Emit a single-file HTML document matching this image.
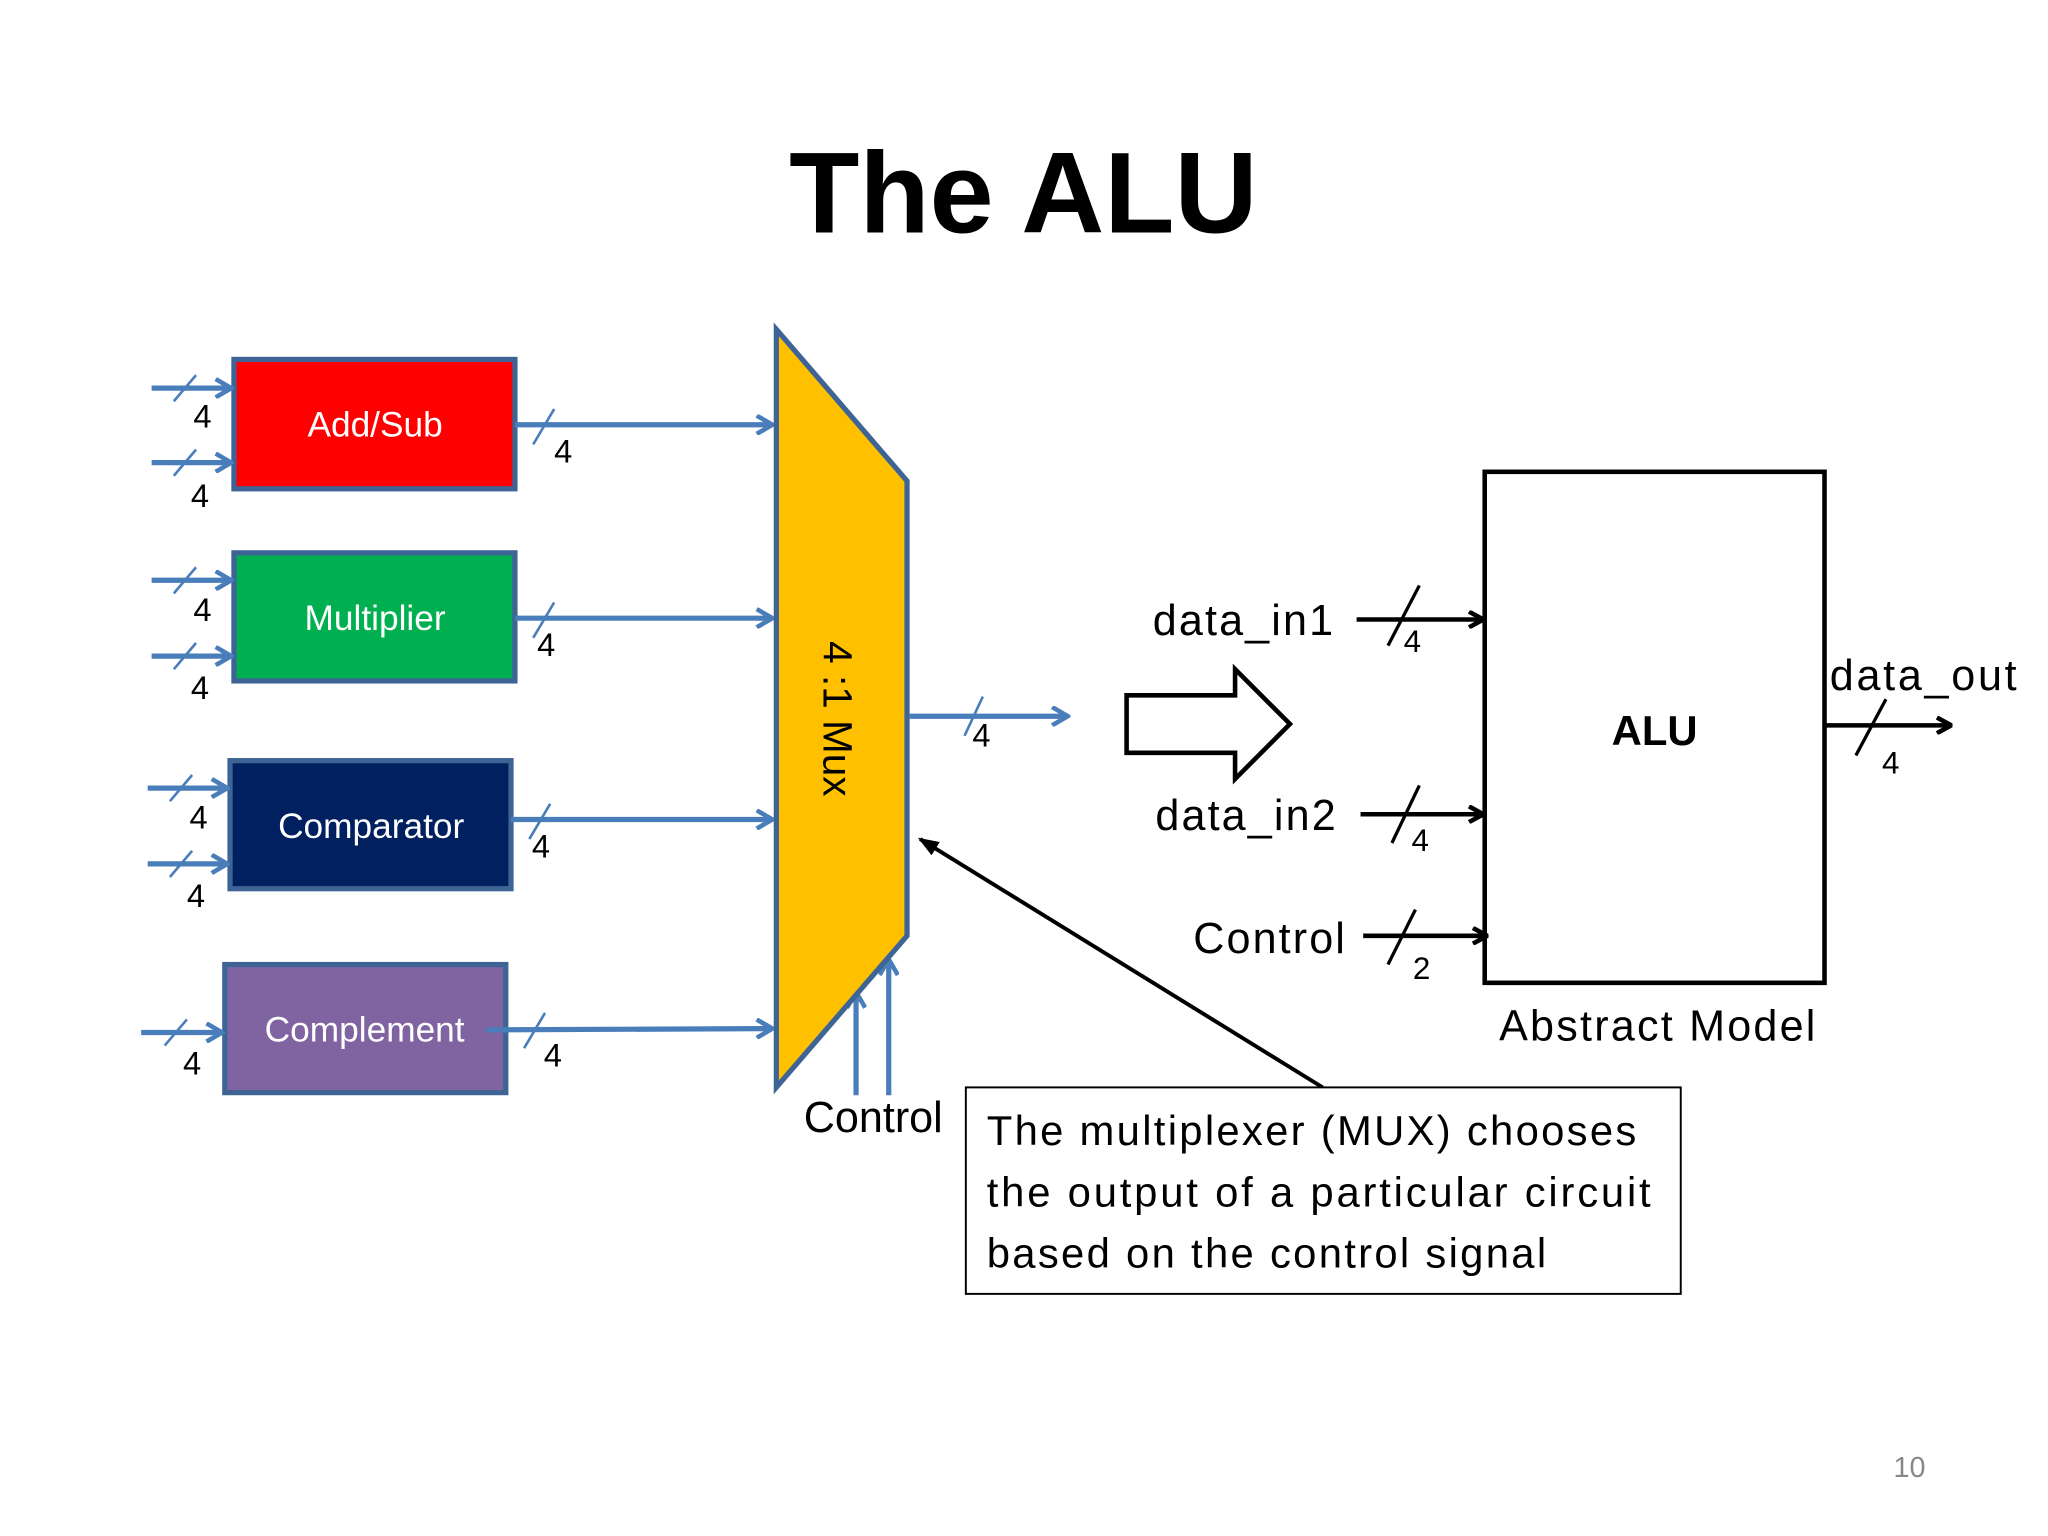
<!DOCTYPE html>
<html><head><meta charset="utf-8"><style>
html,body{margin:0;padding:0;background:#fff;}
svg{display:block;}
text{font-family:"Liberation Sans",sans-serif;}
</style></head><body>
<svg width="2048" height="1536" viewBox="0 0 1567 1175.25" xmlns="http://www.w3.org/2000/svg">
<defs>
<marker id="ab" markerWidth="16" markerHeight="16" refX="13" refY="8" orient="auto" markerUnits="userSpaceOnUse"><path d="M2,1 L14,8 L2,15" fill="none" stroke="#4A7EBB" stroke-width="3.5"/></marker>
<marker id="ak" markerWidth="14" markerHeight="14" refX="12" refY="7" orient="auto" markerUnits="userSpaceOnUse"><path d="M2,1 L13,7 L2,13" fill="none" stroke="#000" stroke-width="3.5"/></marker>
<marker id="akf" markerWidth="16" markerHeight="12" refX="14" refY="6" orient="auto" markerUnits="userSpaceOnUse"><path d="M0,0 L16,6 L0,12 Z" fill="#000"/></marker>
</defs>
<text x="783" y="178" font-size="88" font-weight="bold" text-anchor="middle">The ALU</text>

<g stroke="#3E6496" stroke-width="4">
<rect x="179" y="275" width="215" height="99" fill="#FF0000"/>
<rect x="179" y="423" width="215" height="98" fill="#00B050"/>
<rect x="176" y="582" width="215" height="98" fill="#002060"/>
<rect x="172" y="738" width="215" height="98" fill="#8064A2"/>
</g>
<g fill="#fff" font-size="27" text-anchor="middle">
<text x="287" y="334">Add/Sub</text>
<text x="287" y="482">Multiplier</text>
<text x="284" y="641">Comparator</text>
<text x="279" y="797">Complement</text>
</g>

<g stroke="#4A7EBB" stroke-width="4" fill="none" marker-end="url(#ab)">
<line x1="116" y1="297" x2="176" y2="297"/>
<line x1="116" y1="354" x2="176" y2="354"/>
<line x1="116" y1="444" x2="176" y2="444"/>
<line x1="116" y1="502" x2="176" y2="502"/>
<line x1="113" y1="603" x2="173" y2="603"/>
<line x1="113" y1="661" x2="173" y2="661"/>
<line x1="108" y1="790" x2="169" y2="790"/>
<line x1="394" y1="325" x2="590" y2="325"/>
<line x1="394" y1="473" x2="590" y2="473"/>
<line x1="391" y1="627" x2="590" y2="627"/>
<line x1="372" y1="788" x2="590" y2="787"/>
<line x1="696" y1="548" x2="816" y2="548"/>
<line x1="655" y1="838" x2="655" y2="760"/>
<line x1="680" y1="838" x2="680" y2="735"/>
</g>
<g stroke="#4A7EBB" stroke-width="2">
<line x1="133" y1="307" x2="150" y2="287"/><line x1="133" y1="364" x2="150" y2="344"/>
<line x1="133" y1="454" x2="150" y2="434"/><line x1="133" y1="512" x2="150" y2="492"/>
<line x1="130" y1="613" x2="147" y2="593"/><line x1="130" y1="671" x2="147" y2="651"/>
<line x1="126" y1="800" x2="143" y2="780"/>
<line x1="408" y1="340" x2="424" y2="313"/><line x1="408" y1="488" x2="424" y2="461"/>
<line x1="405" y1="642" x2="421" y2="615"/><line x1="401" y1="802" x2="417" y2="775"/>
<line x1="738" y1="563" x2="752" y2="533"/>
</g>
<g font-size="25" fill="#000">
<text x="148" y="327">4</text><text x="146" y="388">4</text>
<text x="148" y="475">4</text><text x="146" y="535">4</text>
<text x="145" y="634">4</text><text x="143" y="694">4</text>
<text x="140" y="822">4</text>
<text x="424" y="354">4</text><text x="411" y="502">4</text>
<text x="407" y="656">4</text><text x="416" y="816">4</text>
<text x="744" y="571">4</text>
</g>

<polygon points="594,252 694,368 694,716 594,832" fill="#FFC000" stroke="#3E6496" stroke-width="4"/>
<text transform="translate(630,550) rotate(90)" font-size="31" text-anchor="middle">4 :1 Mux</text>
<text x="615" y="866" font-size="33">Control</text>

<line x1="1012" y1="832" x2="704" y2="642" stroke="#000" stroke-width="3" marker-end="url(#akf)"/>
<rect x="739" y="832" width="547" height="158" fill="#fff" stroke="#000" stroke-width="1.5"/>
<g font-size="32">
<text x="755" y="876" textLength="497">The multiplexer (MUX) chooses</text>
<text x="755" y="923" textLength="508">the output of a particular circuit</text>
<text x="755" y="970" textLength="428">based on the control signal</text>
</g>

<polygon points="862,532 945,532 945,512 987,554 945,596 945,576 862,576" fill="#fff" stroke="#000" stroke-width="3.5"/>

<rect x="1136" y="361" width="260" height="391" fill="#fff" stroke="#000" stroke-width="3.5"/>
<text x="1266" y="570" font-size="32" font-weight="bold" text-anchor="middle">ALU</text>
<text x="1268" y="796" font-size="33" text-anchor="middle" textLength="242">Abstract Model</text>

<g font-size="33" text-anchor="end">
<text x="1020" y="486" textLength="138">data_in1</text>
<text x="1022" y="635" textLength="138">data_in2</text>
<text x="1029" y="729" textLength="116">Control</text>
</g>
<text x="1400" y="528" font-size="33" textLength="143">data_out</text>
<g stroke="#000" stroke-width="3.5" marker-end="url(#ak)">
<line x1="1038" y1="474" x2="1134" y2="474"/>
<line x1="1041" y1="623" x2="1134" y2="623"/>
<line x1="1043" y1="716" x2="1137" y2="716"/>
<line x1="1397" y1="555" x2="1492" y2="555"/>
</g>
<g stroke="#000" stroke-width="2.5">
<line x1="1062" y1="494" x2="1086" y2="448"/>
<line x1="1065" y1="645" x2="1086" y2="601"/>
<line x1="1062" y1="738" x2="1083" y2="696"/>
<line x1="1420" y1="578" x2="1443" y2="535"/>
</g>
<g font-size="24">
<text x="1074" y="499">4</text><text x="1080" y="651">4</text>
<text x="1081" y="749">2</text><text x="1440" y="592">4</text>
</g>
<text x="1461" y="1130" font-size="22" fill="#888" text-anchor="middle">10</text>
</svg>
</body></html>
